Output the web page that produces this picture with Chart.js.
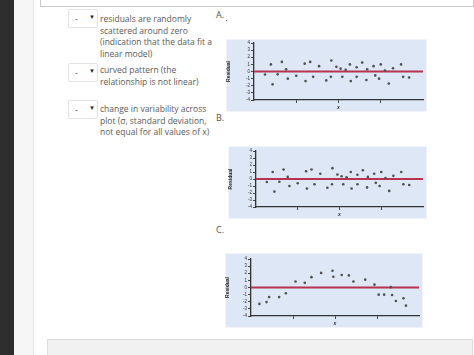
<!DOCTYPE html>
<html><head><meta charset="utf-8">
<script src="https://cdn.jsdelivr.net/npm/chart.js@4"></script>
<style>
html,body{margin:0;padding:0;background:#fff;width:474px;height:355px;overflow:hidden;font-family:"Open Sans",sans-serif;}
.abs{position:absolute;}
#dark{left:0;top:0;width:14px;height:355px;background:#2e2e2e;}
#light{left:14px;top:0;width:19px;height:355px;background:#f6f6f6;border-right:1px solid #e2e2e2;}
#topbox{left:40px;top:-10px;width:432px;height:15px;border:1px solid #c9c9c9;background:#fff;}
#botbox{left:47px;top:339px;width:424px;height:30px;border:1px solid #dcdcdc;background:#f1f1f1;}
.sel{width:28px;height:17px;border:1px solid #e3e3e3;border-radius:2px;background:#fff;}
.sel .d{position:absolute;left:6px;top:2px;font-size:9px;color:#555;}
.sel .a{position:absolute;left:20px;top:3px;font-size:6px;color:#222;}
.txt{left:100px;font-size:8.5px;line-height:11.5px;color:#5a5a5a;white-space:nowrap;}
.lab{left:216px;font-size:9px;color:#555;}
canvas{position:absolute;}
</style></head><body>
<div id="dark" class="abs"></div>
<div id="light" class="abs"></div>
<div id="topbox" class="abs"></div>
<div id="botbox" class="abs"></div>

<div class="abs sel" style="left:68px;top:9px;"><span class="d">-</span><span class="a">▼</span></div>
<div class="abs txt" style="top:13px;">residuals are randomly<br>scattered around zero<br>(indication that the data fit a<br>linear model)</div>
<div class="abs sel" style="left:68px;top:63px;"><span class="d">-</span><span class="a">▼</span></div>
<div class="abs txt" style="top:64px;">curved pattern (the<br>relationship is not linear)</div>
<div class="abs sel" style="left:68px;top:100px;"><span class="d">-</span><span class="a">▼</span></div>
<div class="abs txt" style="top:103px;">change in variability across<br>plot (σ, standard deviation,<br>not equal for all values of x)</div>

<div class="abs lab" style="top:8px;">A.</div>
<div class="abs" style="left:226px;top:20px;width:1px;height:1px;background:#888;"></div>
<div class="abs lab" style="top:111px;">B.</div>
<div class="abs lab" style="top:223px;">C.</div>

<canvas id="cA" style="left:226px;top:39px;" width="201" height="73"></canvas>
<canvas id="cB" style="left:228px;top:146px;" width="199" height="73"></canvas>
<canvas id="cC" style="left:225px;top:253px;" width="198" height="75"></canvas>

<script>
// ---- data ----
const xTicks = [1, 2, 3];
const yTicks = [-4, -3, -2, -1, 0, 1, 2, 3, 4];
const zeroLine = [{x: 0, y: 0}, {x: 4, y: 0}];

const xA = [0.26,0.40,0.44,0.56,0.66,0.76,0.80,1.00,1.20,1.22,1.33,1.40,1.54,1.71,1.82,1.83,1.95,2.05,2.09,2.17,2.27,2.29,2.43,2.43,2.56,2.66,2.68,2.83,2.87,2.96,3.00,3.10,3.19,3.29,3.48,3.53,3.67];
const yA = [-0.42,1.0,-1.8,-0.4,1.35,0.3,-1.0,-0.6,1.1,-1.35,1.35,-0.75,0.75,-1.25,-0.75,1.55,0.65,0.4,-0.75,0.25,1.0,-1.35,0.6,-0.75,1.25,-1.2,0.3,0.75,-0.55,-1.0,1.0,0.15,-1.7,0.45,1.0,-0.75,-0.85];

const xB = xA.slice();
const yB = yA.slice();

const xC = [0.20,0.37,0.43,0.67,0.83,1.06,1.28,1.44,1.67,1.94,1.96,2.16,2.33,2.44,2.72,2.94,3.04,3.17,3.33,3.36,3.45,3.63,3.69];
const yC = [-2.3,-2.05,-1.35,-1.35,-0.8,0.85,0.65,1.45,2.05,2.35,1.5,1.75,1.7,0.85,1.1,0.4,-1.0,-1.0,0.05,-1.05,-1.9,-1.5,-2.55];

function toPts(xs, ys){ return xs.map((x,i)=>({x:x, y:ys[i]})); }

const bgPlugin = {
  id: 'bg',
  beforeDraw(chart){
    const c = chart.ctx;
    c.save();
    c.fillStyle = '#dde7f5';
    c.fillRect(0,0,chart.width,chart.height);
    c.strokeStyle = 'rgba(255,255,255,0.6)';
    c.lineWidth = 1;
    c.strokeRect(0.5,0.5,chart.width-1,chart.height-1);
    c.restore();
  }
};

function makeChart(id, xs, ys, g){
  new Chart(document.getElementById(id), {
    type: 'scatter',
    data: {
      datasets: [
        {type:'line', data: zeroLine, borderColor:'#b8334f', borderWidth:2, pointRadius:0, order:2},
        {data: toPts(xs, ys), backgroundColor:'#505050', borderColor:'#505050', pointRadius:1.3, borderWidth:0, order:1}
      ]
    },
    options: {
      responsive:false, animation:false, events:[],
      layout:{padding:{left:0, top:g.top, right:g.right, bottom:0}},
      plugins:{legend:{display:false}, tooltip:{enabled:false}},
      scales:{
        x:{
          type:'linear', min:0, max:4,
          afterBuildTicks(s){ s.ticks = xTicks.map(v=>({value:v})); },
          afterFit(s){ s.height = g.bottom; },
          ticks:{display:false},
          grid:{display:true, drawOnChartArea:false, drawTicks:true, tickLength:3, color:'#444', lineWidth:1},
          border:{display:true, color:'#333', width:1.3},
          title:{display:true, text:'x', font:{family:'Liberation Sans', size:5, style:'italic', weight:'bold'}, color:'#333', padding:{top:0,bottom:1}}
        },
        y:{
          type:'linear', min:-4, max:4,
          afterBuildTicks(s){ s.ticks = yTicks.map(v=>({value:v})); },
          afterFit(s){ s.width = g.left; },
          ticks:{font:{family:'Liberation Sans', size:4.5}, color:'#333', padding:1, autoSkip:false, maxRotation:0},
          grid:{display:true, drawOnChartArea:false, drawTicks:true, tickLength:3, color:'#444', lineWidth:1},
          border:{display:true, color:'#333', width:1.3},
          title:{display:true, text:'Residual', font:{family:'Liberation Sans', size:5, weight:'bold'}, color:'#222', padding:{top:0,bottom:0}}
        }
      }
    },
    plugins:[bgPlugin]
  });
}

makeChart('cA', xA, yA, {left:28, right:4, top:4, bottom:12});
makeChart('cB', xB, yB, {left:28, right:4, top:5, bottom:12});
makeChart('cC', xC, yC, {left:26, right:4, top:6, bottom:12});
</script>
</body></html>
